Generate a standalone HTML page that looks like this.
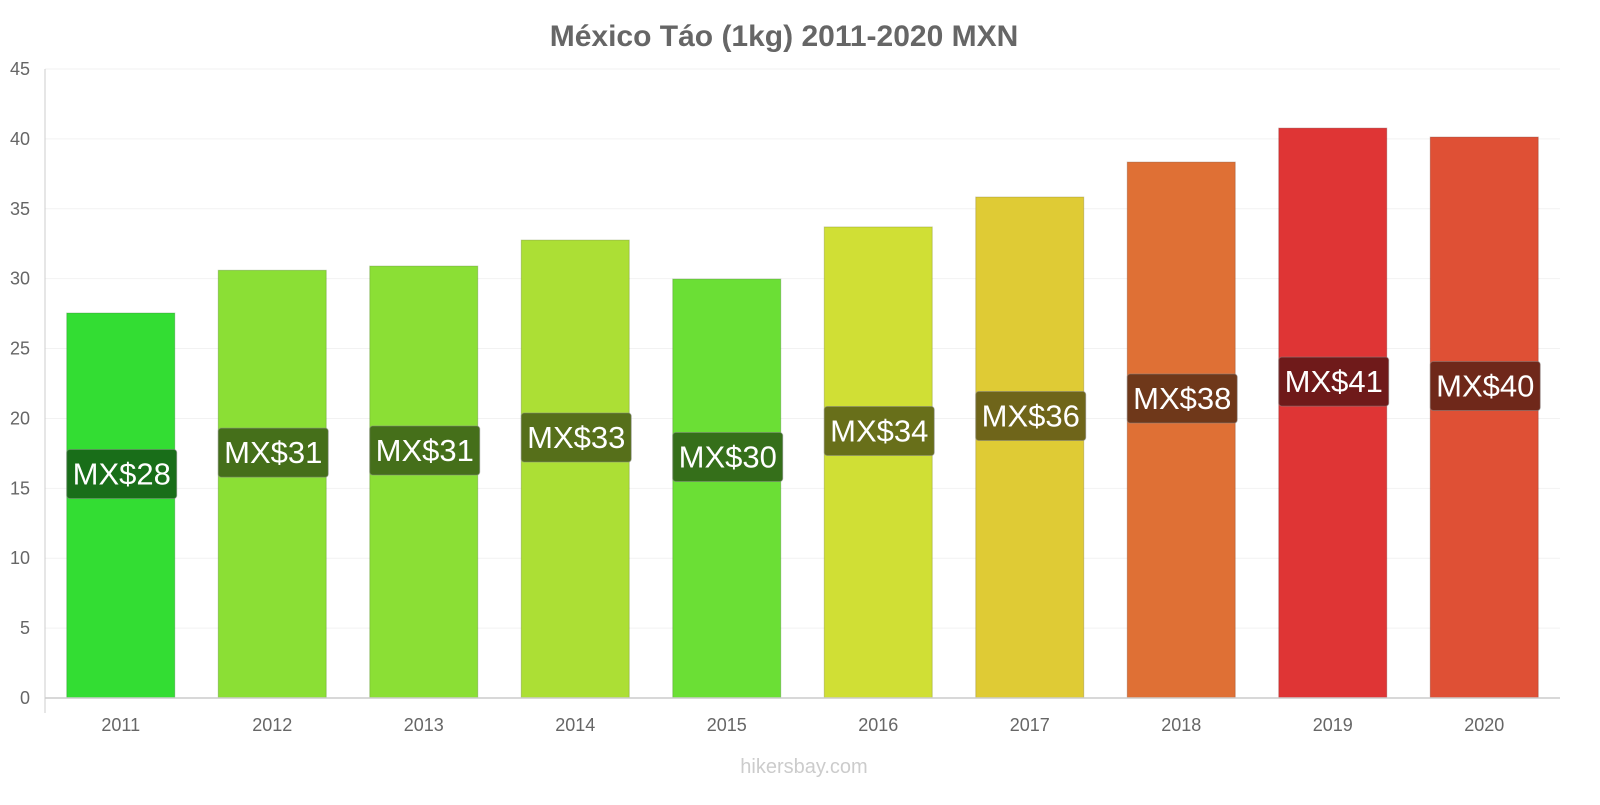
<!DOCTYPE html>
<html><head><meta charset="utf-8"><style>
body{margin:0;background:#fff;font-family:"Liberation Sans",sans-serif;}
svg text{font-family:"Liberation Sans",sans-serif;}
</style></head><body>
<svg id="chart" width="1600" height="800" xmlns="http://www.w3.org/2000/svg">
<text x="784" y="46" text-anchor="middle" font-size="30" font-weight="bold" fill="#666">México Táo (1kg) 2011-2020 MXN</text>
<text x="804" y="773" text-anchor="middle" font-size="20" fill="#ccc">hikersbay.com</text>
<g id="grid"></g><g id="bars"></g><g id="axes"></g>
</svg>
<script>
const categories=["2011","2012","2013","2014","2015","2016","2017","2018","2019","2020"];
const values=[27.54,30.6,30.9,32.76,29.97,33.7,35.84,38.34,40.77,40.13];
const valueLabels=["MX$28","MX$31","MX$31","MX$33","MX$30","MX$34","MX$36","MX$38","MX$41","MX$40"];
const colors=["#33dd33","#8bdf35","#8bdf35","#acdf35","#6bdf35","#d0df35","#dfcb35","#df7035","#df3535","#df5035"];
const yTicks=[0,5,10,15,20,25,30,35,40,45];
const NS="http://www.w3.org/2000/svg";
const L=45,R=1560,T=69,B=698,yMax=45;
const y=v=>B-(v/yMax)*(B-T);
const band=(R-L)/categories.length;
const xc=i=>L+band*(i+0.5);
function mk(tag,attrs,parent){const e=document.createElementNS(NS,tag);for(const k in attrs)e.setAttribute(k,attrs[k]);parent.appendChild(e);return e;}
function dark(c){const n=parseInt(c.slice(1),16);const r=(n>>16)>>1,g=((n>>8)&255)>>1,b=(n&255)>>1;return `rgb(${r},${g},${b})`;}
const grid=document.getElementById('grid'),bars=document.getElementById('bars'),axes=document.getElementById('axes');
yTicks.forEach(t=>{
 const ln=mk('line',{x1:L,x2:R,y1:y(t),y2:y(t),stroke:'#f2f2f2','stroke-width':1},grid);
 
 
 const tx=mk('text',{x:30,y:y(t)+6,'text-anchor':'end','font-size':18,fill:'#666'},axes);
 tx.textContent=t;
 
 
});
const ax=mk('line',{x1:L,x2:L,y1:T,y2:713,stroke:'#ccc','stroke-width':1},axes);


const bx=mk('line',{x1:L,x2:R,y1:B,y2:B,stroke:'#ccc','stroke-width':1.5},axes);


categories.forEach((c,i)=>{
 const w=108,x=xc(i)-w/2,top=y(values[i]);
 const r=mk('rect',{x:x,y:top,width:w,height:B-top,fill:colors[i],stroke:dark(colors[i]),'stroke-opacity':0.3},bars);
 
 
 const ly=(top+B)/2-32;
 const lb=mk('rect',{x:x,y:ly-24,width:110,height:49,rx:3,fill:dark(colors[i]),stroke:'#888','stroke-opacity':0.5},bars);
 
 
 const lt=mk('text',{x:x+55,y:ly+11,'text-anchor':'middle','font-size':31,fill:'#fff'},bars);
 lt.textContent=valueLabels[i];
 
 
 const xt=mk('text',{x:xc(i),y:731,'text-anchor':'middle','font-size':18,fill:'#666'},axes);
 xt.textContent=c;
 
 
});
</script>
</body></html>
